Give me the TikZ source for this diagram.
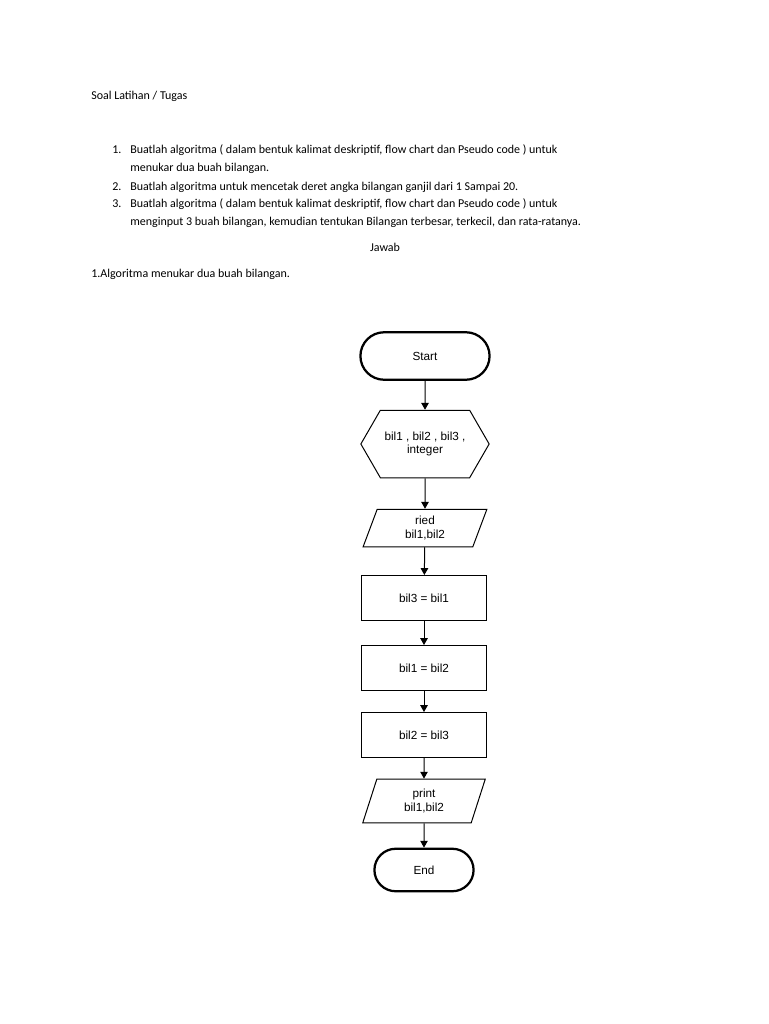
\documentclass[tikz,border=0pt]{standalone}
\usepackage{fontspec}
\setmainfont{Carlito}
\newfontfamily\chartfont{Liberation Sans}
\usetikzlibrary{shapes.geometric,shapes.misc,shapes.symbols,arrows.meta}

\tikzset{
  txt/.style={anchor=west, inner sep=0pt, text height=1.6ex, text depth=.4ex, font=\fontsize{9.6}{11}\selectfont},
  chart/.style={draw, line width=0.8pt, align=center, font=\chartfont\fontsize{9.4}{10.6}\selectfont},
  term/.style={chart, rounded rectangle, line width=1.8pt},
  io/.style={chart, trapezium, trapezium left angle=66, trapezium right angle=114, trapezium stretches body},
  proc/.style={chart, rectangle, minimum width=100pt, minimum height=36pt},
  flow/.style={-{Triangle[length=5.5pt,width=6pt]}, line width=0.8pt}
}

\begin{document}
\begin{tikzpicture}[x=0.8pt, y=-0.8pt]
\useasboundingbox[fill=white] (0,0) rectangle (768,1024);

\node[txt] (t0) at (91,96) {Soal Latihan / Tugas};

\node[txt] (n1) at (112,150) {1.};
\node[txt] (t1) at (130,150) {Buatlah algoritma ( dalam bentuk kalimat deskriptif, flow chart dan Pseudo code ) untuk};
\node[txt] (t2) at (130,168) {menukar dua buah bilangan.};
\node[txt] (n2) at (112,187) {2.};
\node[txt] (t3) at (130,187) {Buatlah algoritma untuk mencetak deret angka bilangan ganjil dari 1 Sampai 20.};
\node[txt] (n3) at (112,204) {3.};
\node[txt] (t4) at (130,204) {Buatlah algoritma ( dalam bentuk kalimat deskriptif, flow chart dan Pseudo code ) untuk};
\node[txt] (t5) at (130,222) {menginput 3 buah bilangan, kemudian tentukan Bilangan terbesar, terkecil, dan rata-ratanya.};

\node[txt, anchor=center] (t6) at (385,248) {Jawab};
\node[txt] (t7) at (91,274) {1.Algoritma menukar dua buah bilangan.};

\node[term, minimum width=110pt, minimum height=38pt] (0) at (425,356) {Start};
\node[chart, signal, signal to=east and west, signal pointer angle=120, minimum width=100pt, minimum height=54pt] (1) at (425,444) {bil1 , bil2 , bil3 ,\\integer};
\node[io, minimum width=99pt, minimum height=30pt] (2) at (425,528) {ried\\bil1,bil2};
\node[proc] (3) at (424,598) {bil3 = bil1};
\node[proc] (4) at (424,668) {bil1 = bil2};
\node[proc] (5) at (424,735) {bil2 = bil3};
\node[io, minimum width=98pt, minimum height=35pt] (6) at (424,801) {print\\bil1,bil2};
\node[term, minimum width=86pt, minimum height=34pt] (7) at (424,870) {End};

\draw[flow] (0) -- (1);
\draw[flow] (1) -- (2);
\draw[flow] (2) -- (3);
\draw[flow] (3) -- (4);
\draw[flow] (4) -- (5);
\draw[flow] (5) -- (6);
\draw[flow] (6) -- (7);

\end{tikzpicture}
\end{document}
